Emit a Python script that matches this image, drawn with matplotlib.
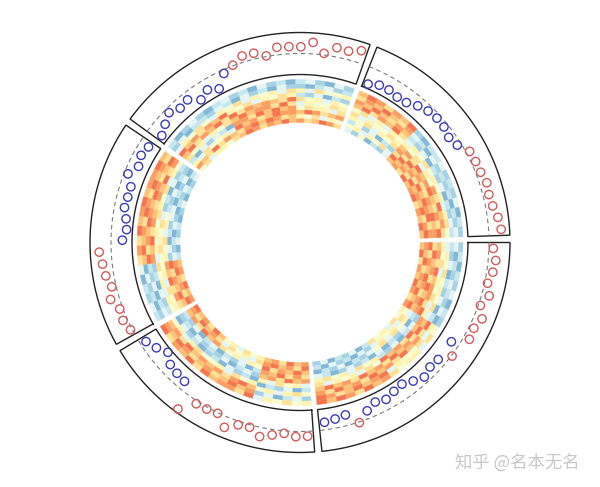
import numpy as np
import matplotlib
matplotlib.use("Agg")
import matplotlib.pyplot as plt
from matplotlib.colors import Normalize

# ---------------- data ----------------
sector_sizes = [21, 19, 24, 18, 18]  # clockwise, starting with the top sector

# scatter track values (range -1..1, dashed line at 0)
points_top = [-0.68, -0.46, -0.22, -0.43, -0.35, -0.73, -0.50, -0.73, -0.17,
              0.03, 0.30, 0.28, 0.03, 0.36, 0.34, 0.32, 0.55, 0.08, 0.44, 0.40, 0.59]
points_right_top = [-0.79, -0.61, -0.59, -0.67, -0.63, -0.41, -0.26, -0.19, -0.21,
                    -0.33, -0.19, 0.17, 0.21, 0.23, 0.34, 0.28, 0.34, 0.50, 0.60]
points_bottom_right = [0.21, 0.36, 0.29, 0.14, 0.36, 0.10, 0.40, 0.23, 0.29, -0.38,
                       0.04, -0.38, -0.43, -0.28, -0.48, -0.69, -0.62, -0.48, -0.60,
                       -0.37, 0.03, -0.51, -0.43, -0.36]
points_bottom_left = [0.23, 0.25, 0.12, 0.26, 0.44, 0.12, 0.17, 0.51, 0.03, 0.09,
                      0.13, 0.83, -0.40, -0.45, -0.52, -0.82, -0.52, -0.28]
points_upper_left = [0.08, 0.21, 0.15, 0.42, 0.21, 0.38, 0.46, 0.57, -0.54, -0.72,
                     -0.64, -0.48, -0.52, -0.52, -0.18, -0.50, -0.37, -0.47]
point_values = [points_top, points_right_top, points_bottom_right,
                points_bottom_left, points_upper_left]

# heatmap track values (digits 0..9), rows inner -> outer
heat_top = ["4635546" "79868797" "867986",
            "8769687" "68979867" "546354",
            "5364453" "97867988" "798678",
            "2031320" "88697978" "465536",
            "6453546" "79788696" "354465",
            "7968796" "96878769" "645354",
            "9786879" "54635465" "213021",
            "3546435" "46354536" "536445",
            "1302213" "20312031" "102312",
            "2013102" "31203120" "231031"]
heat_right_top = ["3140213" "786978" "968797",
                  "4535463" "978697" "879689",
                  "2413021" "697869" "798968",
                  "5463546" "869786" "687978",
                  "6354465" "786978" "976869",
                  "4635354" "546354" "869786",
                  "7968796" "354645" "453564",
                  "8797687" "213021" "302132",
                  "6879768" "320312" "120213",
                  "7986879" "102231" "213021"]
heat_bottom_right = ["796879868" "5463546" "20312031",
                     "879687979" "4635453" "13021302",
                     "968798687" "3546364" "31203120",
                     "697869798" "2031203" "02131023",
                     "786978869" "1320312" "54635465",
                     "546354635" "8796879" "46354536",
                     "354645463" "7968796" "87968797",
                     "213021302" "9687968" "79687968",
                     "302132130" "5364453" "98797689",
                     "120213021" "4635546" "87968979"]
heat_bottom_left = ["879687" "546354" "796879",
                    "968798" "635463" "687968",
                    "797869" "453546" "879687",
                    "686978" "203120" "320312",
                    "879687" "132031" "213021",
                    "354635" "021302" "102130",
                    "203120" "546354" "465354",
                    "465354" "798687" "879687",
                    "132031" "879768" "768978",
                    "546453" "968879" "697869"]
heat_upper_left = ["879687" "203120" "130213",
                   "968798" "312031" "021302",
                   "797869" "130213" "302130",
                   "686978" "546354" "213021",
                   "546354" "465463" "120312",
                   "453546" "354546" "546354",
                   "213021" "879687" "687968",
                   "320312" "968798" "798679",
                   "102130" "797869" "869786",
                   "231203" "686978" "978897"]
heat_values = [heat_top, heat_right_top, heat_bottom_right,
               heat_bottom_left, heat_upper_left]

watermark = "知乎 @名本无名"

# ---------------- layout ----------------
START_DEG = -54.0
UNIT_DEG = 3.5
GAP_DEG = 2.0
R_HEAT_IN, R_HEAT_OUT = 120.0, 163.0
R_BOX_IN, R_BOX_OUT = 168.0, 210.0
R_MID = (R_BOX_IN + R_BOX_OUT) / 2
HALF = (R_BOX_OUT - R_BOX_IN) / 2
RMAX = 215.0

fig = plt.figure(figsize=(6.0, 4.87), dpi=100)
cx, cy = 300.0, 487 - 242.5
ax = fig.add_axes([(cx - RMAX) / 600, (cy - RMAX) / 487, 2 * RMAX / 600, 2 * RMAX / 487],
                  projection="polar")
ax.set_theta_zero_location("N")
ax.set_theta_direction(-1)
ax.set_ylim(0, RMAX)
ax.axis("off")

cmap = plt.get_cmap("RdYlBu_r")
norm = Normalize(vmin=-3.2, vmax=12.0)

red_c = "#d05c5c"
blue_c = "#3b3bb5"

start = START_DEG
for size, pts, heat in zip(sector_sizes, point_values, heat_values):
    end = start + size * UNIT_DEG
    centers = np.deg2rad(start + UNIT_DEG * (np.arange(size) + 0.5))
    width = np.deg2rad(UNIT_DEG)

    # heatmap
    nrows = len(heat)
    rh = (R_HEAT_OUT - R_HEAT_IN) / nrows
    for i, row in enumerate(heat):
        vals = np.array([int(c) for c in row], dtype=float)
        cols = cmap(norm(vals))
        cols[:, :3] = cols[:, :3] * 0.92 + 0.08
        ax.bar(centers, rh, width=width, bottom=R_HEAT_IN + i * rh,
               color=cols, edgecolor=cols, linewidth=0.3, align="center")

    # box
    th = np.deg2rad(np.linspace(start, end, 200))
    bt = np.concatenate([th, th[::-1], th[:1]])
    br = np.concatenate([np.full(th.size, R_BOX_IN), np.full(th.size, R_BOX_OUT), [R_BOX_IN]])
    ax.plot(bt, br, color="#222222", lw=1.0, solid_joinstyle="miter")

    # dashed zero line
    ax.plot(th, np.full(th.size, R_MID), color="#7a7a7a", lw=0.8, dashes=(4, 3))

    # scatter
    v = np.array(pts)
    colors = [red_c if x > 0 else blue_c for x in v]
    ax.scatter(centers, R_MID + v * HALF, s=36, facecolors="none",
               edgecolors=colors, linewidths=1.0, zorder=3)

    start = end + GAP_DEG

fig.text(455 / 600, 1 - 463 / 487, watermark, fontsize=12.5, color="#c8c8c8",
         va="center", ha="left", family=["Noto Sans CJK SC", "DejaVu Sans"])

fig.savefig("out.png", dpi=100, facecolor="white")
